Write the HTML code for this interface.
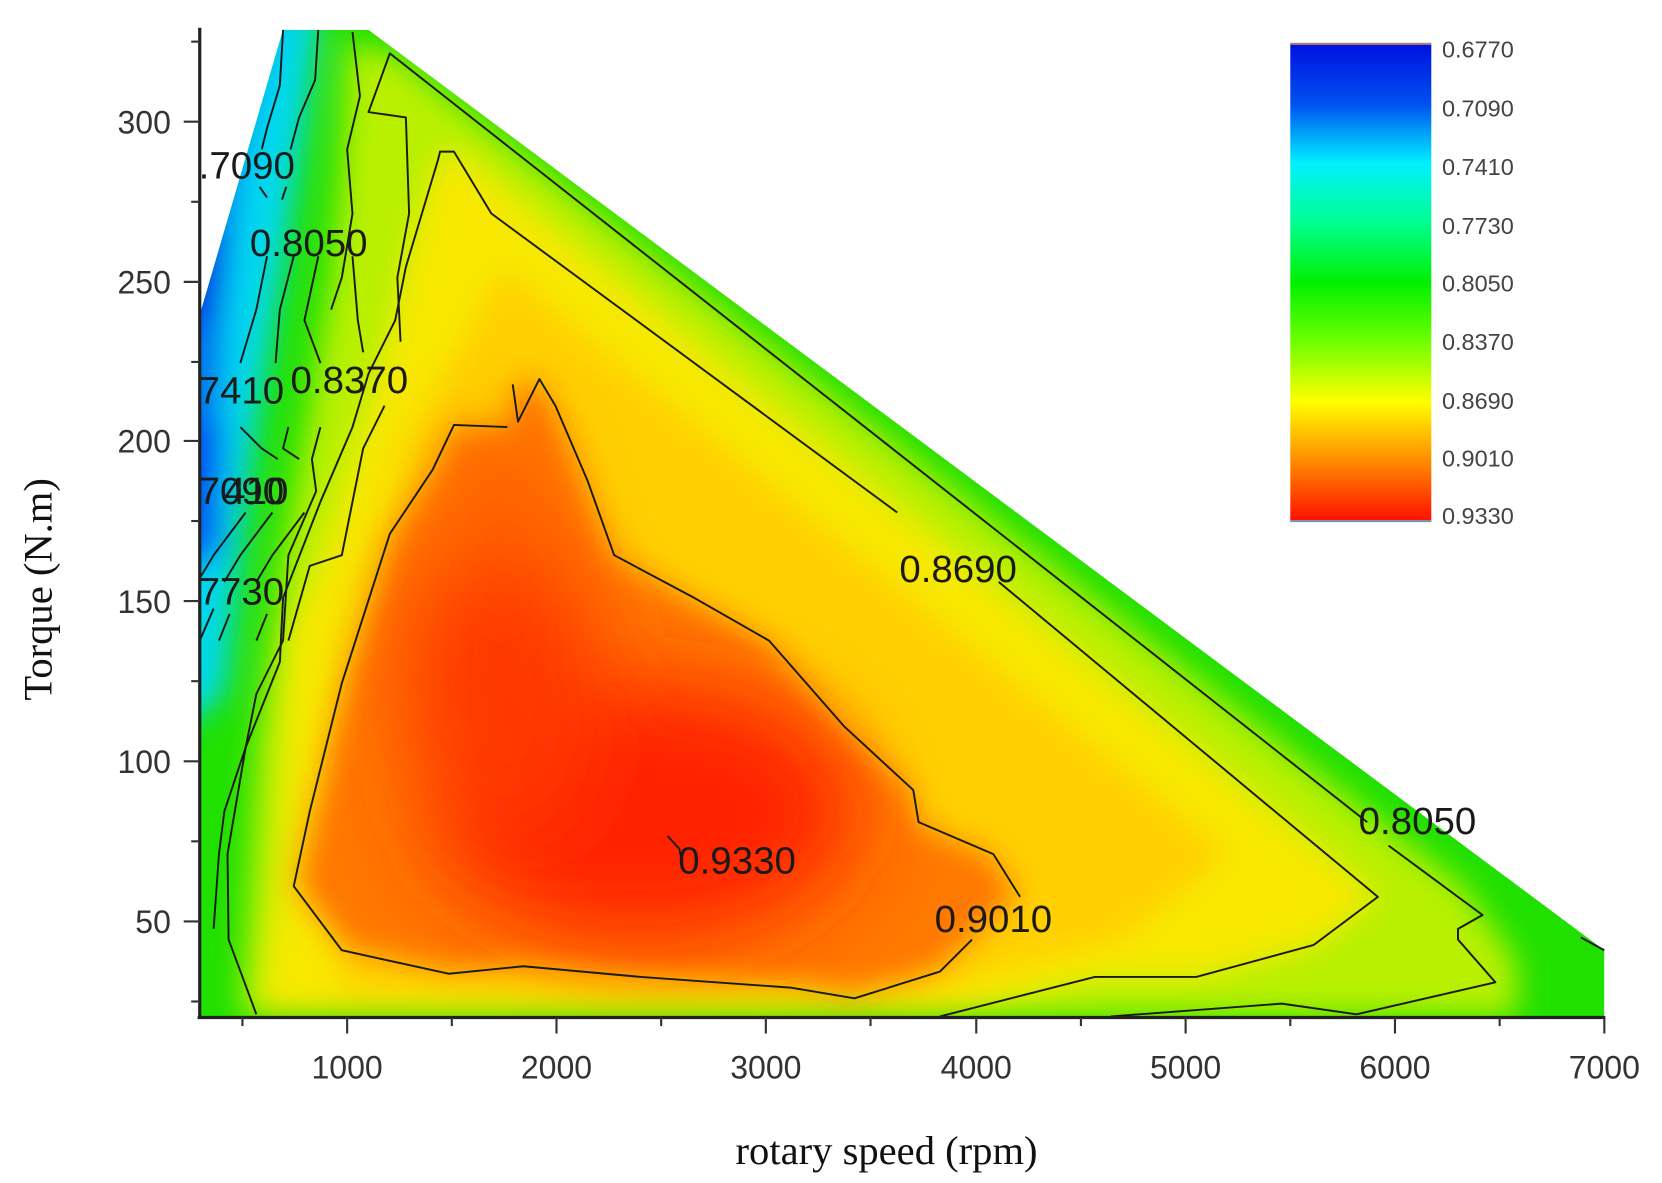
<!DOCTYPE html>
<html><head><meta charset="utf-8"><style>
html,body{margin:0;padding:0;background:#fff;width:1662px;height:1183px;overflow:hidden}
svg{display:block}
</style></head><body>
<svg width="1662" height="1183" viewBox="0 0 1556 1108" preserveAspectRatio="none" xmlns="http://www.w3.org/2000/svg">
<defs>
<clipPath id="shape"><path d="M187,295 L265,28 L345,28 L1502,890 L1502,952 L187,952 Z"/></clipPath>
<filter id="b1" x="-20%" y="-20%" width="140%" height="140%"><feGaussianBlur stdDeviation="14"/></filter>
<filter id="b2" x="-50%" y="-50%" width="200%" height="200%"><feGaussianBlur stdDeviation="40"/></filter>
<linearGradient id="cb" x1="0" y1="0" x2="0" y2="1">
<stop offset="0" stop-color="#0010e0"/>
<stop offset="0.125" stop-color="#0050f0"/>
<stop offset="0.25" stop-color="#00f0ff"/>
<stop offset="0.375" stop-color="#00ff90"/>
<stop offset="0.5" stop-color="#00f000"/>
<stop offset="0.625" stop-color="#70ff00"/>
<stop offset="0.75" stop-color="#ffff00"/>
<stop offset="0.875" stop-color="#ff8a00"/>
<stop offset="1" stop-color="#ff1000"/>
</linearGradient>
</defs>

<g clip-path="url(#shape)">
  <rect x="180" y="20" width="1330" height="940" fill="#20e000"/>
  <g filter="url(#b1)">
    <path d="M150,0 L300,0 L285,120 L265,250 L240,400 L225,520 L210,650 L150,700 Z" fill="#00d8f0"/>
    <path d="M150,0 L255,0 L225,150 L210,300 L205,420 L200,520 L150,540 Z" fill="#0070f0"/>
    <path d="M150,200 L205,220 L195,300 L150,320 Z" fill="#0020e0"/>
    <path d="M150,380 L210,400 L205,520 L150,540 Z" fill="#0050f0"/>
    <path d="M325,40 L370,50 L1370,830 L1420,900 L1420,952 L225,952 L240,700 L265,520 L290,380 L310,260 L320,150 Z" fill="#b8f000"/>
    <path d="M425,140 L1290,840 L1230,885 L1120,915 L1025,915 L880,952 L245,952 L262,800 L270,600 L310,500 L340,400 L370,300 L380,250 L410,150 Z" fill="#f8e800"/>
    <path d="M470,250 L1150,800 L1050,880 L860,930 L320,930 L300,700 L380,420 Z" fill="#ffd000"/>
    <path d="M480,360 L505,355 L520,380 L575,520 L650,560 L720,600 L790,680 L855,740 L860,770 L930,800 L955,840 L910,880 L880,910 L800,935 L740,925 L600,915 L490,905 L420,912 L320,890 L275,830 L290,760 L320,640 L365,500 L405,440 L425,398 L475,400 Z" fill="#ff7800"/>
  </g>
  <g filter="url(#b2)">
    <ellipse cx="600" cy="760" rx="200" ry="120" fill="#ff2000"/>
    <ellipse cx="470" cy="640" rx="90" ry="150" fill="#ff3800"/>
    <ellipse cx="470" cy="480" rx="40" ry="70" fill="#ff5a00"/>
  </g>
</g>

<g fill="none" stroke="#1a1a1a" stroke-width="1.8" stroke-linejoin="round">
  <path d="M910,880 L880,910 L800,935 L740,925 L600,915 L490,905 L420,912 L320,890 L275,830 L290,760 L320,640 L365,500 L405,440 L425,398 L475,400"/>
  <path d="M480,360 L485,395 L505,355 L520,380 L550,450 L575,520 L650,560 L720,600 L790,680 L855,740 L860,770 L930,800 L955,840"/>
  <path d="M625,783 L636,795 L638,805"/>
  <path d="M240,950 L214,880 L213,800 L230,700 L262,620 L265,560 L300,470 L330,400 L345,350 L370,300 L380,250 L410,150 L412,142 L425,142 L460,200 L840,480"/>
  <path d="M935,545 L1290,840 L1230,885 L1120,915 L1025,915 L880,952"/>
  <path d="M300,400 L292,430 L296,460 L270,520 L265,600 L240,650 L230,700 L210,760 L205,800 L200,870"/>
  <path d="M360,380 L340,420 L320,520 L290,530 L270,600"/>
  <path d="M375,320 L372,260 L383,200 L380,110 L345,105 L365,50 L1280,770"/>
  <path d="M1300,792 L1388,857 L1365,870 L1365,880 L1400,920 L1270,950 M1270,950 L1200,940 L1040,952"/>
  <path d="M330,30 L337,90 L325,140 L330,200 L320,260 L310,290"/>
  <path d="M1480,878 L1502,890"/>
  <path d="M298,28 L295,75 L280,110 L272,140"/>
  <path d="M265,28 L262,80 L250,120 L245,140"/>
  <path d="M243,175 L250,185 M268,175 L264,187"/>
  <path d="M250,240 L240,290 L225,340 M275,240 L262,290 L258,340 M298,240 L285,300 L300,340 M330,240 L335,300 L340,330"/>
  <path d="M225,400 L245,420 L260,430 M270,400 L265,420 L280,430"/>
  <path d="M230,480 L200,520 L188,540 M255,480 L225,520 L210,545 M285,480 L255,520 L240,545"/>
  <path d="M187,600 L200,570 M205,600 L215,575 M240,600 L250,575"/>
</g>

<g font-family="Liberation Sans, sans-serif" font-size="36" fill="#1a1a1a">
  <text x="186" y="167">.7090</text>
  <text x="234" y="240">0.8050</text>
  <text x="186" y="378">7410</text>
  <text x="272" y="368">0.8370</text>
  <text x="186" y="472">7090</text>
  <text x="210" y="472">410</text>
  <text x="186" y="566">7730</text>
  <text x="842" y="545">0.8690</text>
  <text x="1272" y="781">0.8050</text>
  <text x="635" y="818">0.9330</text>
  <text x="875" y="873">0.9010</text>
</g>

<g stroke="#222" stroke-width="3" fill="none">
  <line x1="187" y1="26" x2="187" y2="954"/>
  <line x1="185" y1="953" x2="1503" y2="953"/>
</g>
<g stroke="#333" stroke-width="2">
  <line x1="172" y1="114" x2="187" y2="114"/><line x1="172" y1="264" x2="187" y2="264"/>
  <line x1="172" y1="413" x2="187" y2="413"/><line x1="172" y1="563" x2="187" y2="563"/>
  <line x1="172" y1="713" x2="187" y2="713"/><line x1="172" y1="863" x2="187" y2="863"/>
  <line x1="179" y1="39" x2="187" y2="39"/><line x1="179" y1="189" x2="187" y2="189"/>
  <line x1="179" y1="339" x2="187" y2="339"/><line x1="179" y1="488" x2="187" y2="488"/>
  <line x1="179" y1="638" x2="187" y2="638"/><line x1="179" y1="788" x2="187" y2="788"/>
  <line x1="179" y1="938" x2="187" y2="938"/>
  <line x1="325" y1="953" x2="325" y2="968"/><line x1="521" y1="953" x2="521" y2="968"/>
  <line x1="717" y1="953" x2="717" y2="968"/><line x1="914" y1="953" x2="914" y2="968"/>
  <line x1="1110" y1="953" x2="1110" y2="968"/><line x1="1306" y1="953" x2="1306" y2="968"/>
  <line x1="1502" y1="953" x2="1502" y2="968"/>
  <line x1="227" y1="953" x2="227" y2="961"/><line x1="423" y1="953" x2="423" y2="961"/>
  <line x1="619" y1="953" x2="619" y2="961"/><line x1="815" y1="953" x2="815" y2="961"/>
  <line x1="1012" y1="953" x2="1012" y2="961"/><line x1="1208" y1="953" x2="1208" y2="961"/>
  <line x1="1404" y1="953" x2="1404" y2="961"/>
</g>
<g font-family="Liberation Sans, sans-serif" font-size="30" fill="#333" text-anchor="end">
  <text x="160" y="125">300</text><text x="160" y="275">250</text><text x="160" y="424">200</text>
  <text x="160" y="574">150</text><text x="160" y="724">100</text><text x="160" y="874">50</text>
</g>
<g font-family="Liberation Sans, sans-serif" font-size="30" fill="#333" text-anchor="middle">
  <text x="325" y="1010">1000</text><text x="521" y="1010">2000</text><text x="717" y="1010">3000</text>
  <text x="914" y="1010">4000</text><text x="1110" y="1010">5000</text><text x="1306" y="1010">6000</text>
  <text x="1502" y="1010">7000</text>
</g>
<text x="830" y="1090" font-family="Liberation Serif, serif" font-size="38" fill="#111" text-anchor="middle">rotary speed (rpm)</text>
<text transform="translate(48,552) rotate(-90)" font-family="Liberation Serif, serif" font-size="38" fill="#111" text-anchor="middle">Torque (N.m)</text>

<rect x="1208" y="41" width="132" height="447" fill="url(#cb)"/>
<line x1="1208" y1="41" x2="1340" y2="41" stroke="#b08070" stroke-width="2"/>
<line x1="1208" y1="488" x2="1340" y2="488" stroke="#8090b0" stroke-width="2"/>
<g font-family="Liberation Sans, sans-serif" font-size="22" fill="#444">
  <text x="1350" y="54">0.6770</text><text x="1350" y="109">0.7090</text><text x="1350" y="164">0.7410</text>
  <text x="1350" y="219">0.7730</text><text x="1350" y="273">0.8050</text><text x="1350" y="328">0.8370</text>
  <text x="1350" y="383">0.8690</text><text x="1350" y="437">0.9010</text><text x="1350" y="491">0.9330</text>
</g>
</svg>
</body></html>
